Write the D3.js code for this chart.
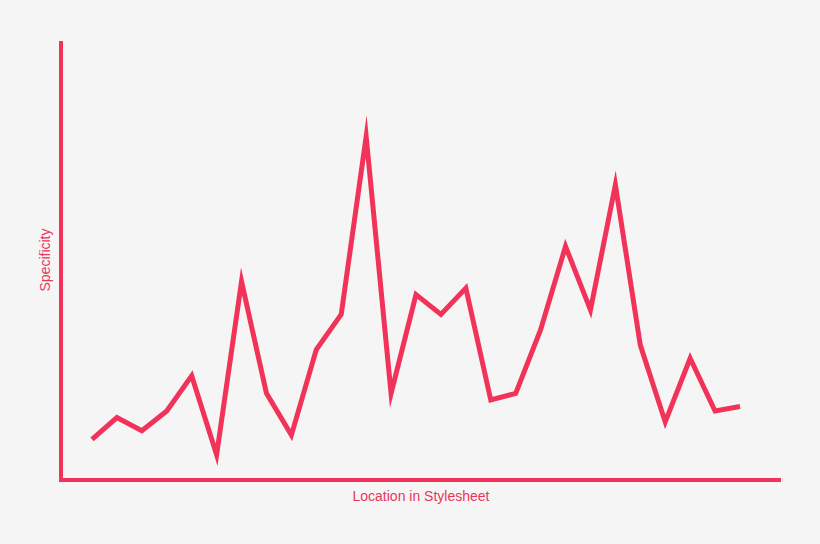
<!DOCTYPE html>
<html>
<head>
<meta charset="utf-8">
<script src="https://cdn.jsdelivr.net/npm/d3@7"></script>
<style>
  html, body { margin: 0; padding: 0; background: #f6f5f5; }
  text { font-family: "Liberation Sans", Arial, sans-serif; }
</style>
</head>
<body>
<div id="chart"></div>
<script>
// specificity of each selector, in stylesheet order
var positions = d3.range(27);
var specificity = [9, 14, 11, 15.5, 23.5, 5.5, 45, 19.5, 10, 29.5, 37.5, 78, 19.5, 42,
                   37.5, 43.5, 18, 19.5, 34, 53, 38.5, 67, 30.5, 13, 27.5, 15.5, 16.5];
var xLabel = "Location in Stylesheet",
    yLabel = "Specificity";

var width = 820, height = 544,
    red = "#f13359";

var svg = d3.select("#chart").append("svg").attr("width", width).attr("height", height);

var x = d3.scaleLinear().domain([0, positions.length - 1]).range([92, 740]);
var y = d3.scaleLinear().domain([0, 100]).range([479, 40]);

// axes are just bare lines, no ticks
svg.append("line")
    .attr("x1", 61).attr("x2", 61)
    .attr("y1", 41).attr("y2", 482)
    .attr("stroke", red)
    .attr("stroke-width", 4);

svg.append("line")
    .attr("x1", 59).attr("x2", 781)
    .attr("y1", 480).attr("y2", 480)
    .attr("stroke", red)
    .attr("stroke-width", 4);

var line = d3.line()
    .x(function(d, i) { return x(positions[i]); })
    .y(function(d) { return y(d); });

svg.append("path")
    .datum(specificity)
    .attr("d", line)
    .attr("fill", "none")
    .attr("stroke", red)
    .attr("stroke-width", 5)
    .attr("stroke-linejoin", "miter")
    .attr("stroke-miterlimit", 10);

svg.append("text")
    .attr("x", 421)
    .attr("y", 501)
    .attr("text-anchor", "middle")
    .attr("fill", "#e8365c")
    .style("font-size", "14px")
    .text(xLabel);

svg.append("text")
    .attr("transform", "translate(50,260) rotate(-90)")
    .attr("text-anchor", "middle")
    .attr("fill", "#e8365c")
    .style("font-size", "14px")
    .text(yLabel);
</script>
</body>
</html>
